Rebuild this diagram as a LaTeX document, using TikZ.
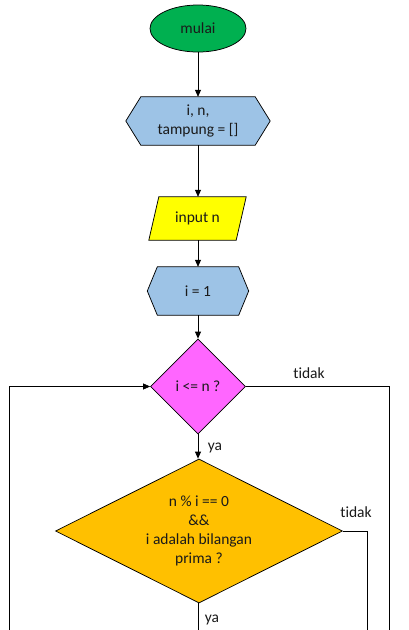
\documentclass[tikz,border=0pt]{standalone}
\usepackage{fontspec}
\setmainfont{Carlito}[Ligatures={NoCommon}]
\usetikzlibrary{shapes.geometric,arrows.meta,backgrounds,calc}
\definecolor{cgreen}{HTML}{00B050}
\definecolor{cblue}{HTML}{9DC3E6}
\definecolor{cyellow}{HTML}{FFFF00}
\definecolor{cmagenta}{HTML}{FF66FF}
\definecolor{corange}{HTML}{FFC000}
\definecolor{ctext}{HTML}{1A1A1A}
\begin{document}
\begin{tikzpicture}[x=1pt,y=-1pt,
  every node/.style={font=\fontsize{15.5}{18.5}\selectfont, text=ctext},
  box/.style={inner sep=0pt, align=center},
  shapeline/.style={draw=black, line width=0.75pt},
  conn/.style={draw=black, line width=0.75pt},
  arr/.style={conn, -{Triangle[length=7pt,width=6pt]}},
  lbl/.style={inner sep=0pt}]
\useasboundingbox (0,0) rectangle (409,630);

% nodes
\node[ellipse, shapeline, fill=cgreen, minimum width=96pt, minimum height=47pt, inner sep=0pt] (start) at (198,28.5) {mulai};
\node[box, minimum width=144pt, minimum height=48pt] (h1) at (198,121) {i, n,\\tampung = []};
\node[box, minimum width=97pt, minimum height=43pt] (p) at (197.5,218.5) {input n};
\node[box, minimum width=101pt, minimum height=48pt] (h2) at (198,291) {i = 1};
\node[diamond, shapeline, fill=cmagenta, minimum width=95pt, minimum height=95pt, inner sep=0pt] (d1) at (198,386.5) {i <= n ?};
\node[diamond, shapeline, fill=corange, aspect=2, minimum width=287pt, minimum height=144pt, inner sep=0pt, align=center, font=\fontsize{15.5}{19}\selectfont] (d2) at (199,531) {n \% i == 0\\\&\&\\i adalah bilangan\\prima ?};

% custom shapes behind text
\begin{scope}[on background layer]
\draw[shapeline, fill=cblue] (h1.west) -- ($(h1.north west)+(15,0)$) -- ($(h1.north east)+(-15,0)$) -- (h1.east) -- ($(h1.south east)+(-15,0)$) -- ($(h1.south west)+(15,0)$) -- cycle;
\draw[shapeline, fill=cyellow] ($(p.north west)+(10,0)$) -- (p.north east) -- ($(p.south east)+(-10,0)$) -- (p.south west) -- cycle;
\draw[shapeline, fill=cblue] (h2.west) -- ($(h2.north west)+(10,0)$) -- ($(h2.north east)+(-10,0)$) -- (h2.east) -- ($(h2.south east)+(-10,0)$) -- ($(h2.south west)+(10,0)$) -- cycle;
\end{scope}

% free ends
\coordinate (lend) at (9,630);
\coordinate (rend1) at (389,630);
\coordinate (rend2) at (367,630);
\coordinate (bend) at (198,630);

% connectors
\draw[arr] (start.south) -- (h1.north);
\draw[arr] (h1.south) -- (p.north -| h1.south);
\draw[arr] (p.south -| h2.north) -- (h2.north);
\draw[arr] (h2.south) -- (d1.north);
\draw[arr] (d1.south) -- (d1.south |- d2.north);
\draw[conn] (d1.east) -| (rend1);
\draw[conn] (d2.east) -| (rend2);
\draw[conn] (d2.south -| d1.south) -- (bend);
\draw[arr] (lend) |- (d1.west);

% labels
\node[lbl] (t1) at (309,373) {tidak};
\node[lbl] (y1) at (215,448) {ya};
\node[lbl] (t2) at (356,512) {tidak};
\node[lbl] (y2) at (212,620) {ya};
\end{tikzpicture}
\end{document}
